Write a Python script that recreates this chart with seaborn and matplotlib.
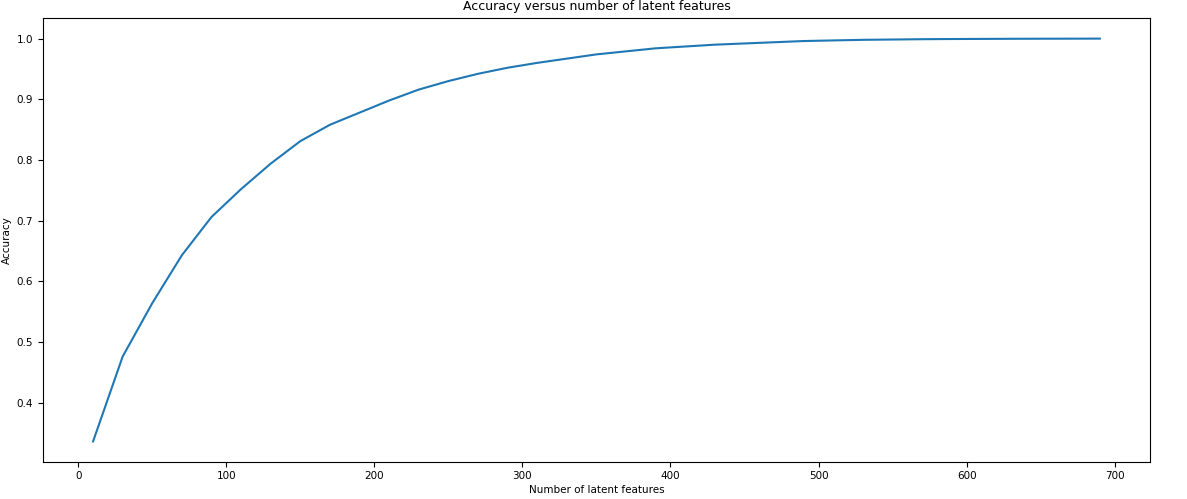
import matplotlib
matplotlib.use("Agg")
import matplotlib.pyplot as plt
import seaborn as sns

# number of latent features and accuracy
num_latent_feats = list(range(10, 700, 20))
accuracy = [0.336, 0.476, 0.564, 0.643, 0.706, 0.752, 0.794, 0.831, 0.858, 0.878,
            0.898, 0.916, 0.930, 0.942, 0.952, 0.960, 0.967, 0.974, 0.979, 0.984,
            0.987, 0.990, 0.992, 0.994, 0.996, 0.997, 0.998, 0.9985, 0.999, 0.9993,
            0.9995, 0.9997, 0.9998, 0.9999, 1.0]

plt.rcParams["font.size"] = 7.5

fig, ax = plt.subplots(figsize=(11.87, 4.99), dpi=100)
sns.lineplot(x=num_latent_feats, y=accuracy, ax=ax, color="#1f77b4", linewidth=1.5)
ax.set_title("Accuracy versus number of latent features", fontsize=9)
ax.set_xlabel("Number of latent features", fontsize=7.5, labelpad=3)
ax.set_ylabel("Accuracy", fontsize=7.5, labelpad=3)
ax.set_xticks([0, 100, 200, 300, 400, 500, 600, 700])
ax.tick_params(labelsize=7.5)
fig.subplots_adjust(left=0.036, right=0.969, top=0.963, bottom=0.075)
plt.savefig("out.png", dpi=100)
